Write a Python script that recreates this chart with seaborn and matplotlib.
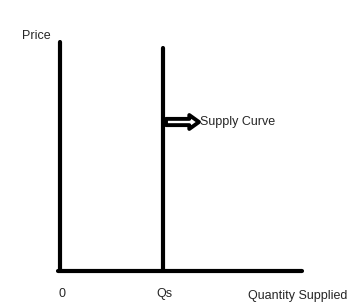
import matplotlib
matplotlib.use("Agg")
import matplotlib.pyplot as plt
import seaborn as sns
import pandas as pd

sns.set_style("white")
plt.rcParams['font.family'] = ['Liberation Sans', 'DejaVu Sans']

# Diagram data (quantity, price units)
axis_x = [0, 242]          # quantity axis extent
axis_y = [0, 229]          # price axis extent
qs = 103                   # quantity supplied (vertical supply curve)
supply_price = [0, 223]
arrow_price = 149
labels_x = ["0", "Qs"]
x_title = "Quantity Supplied"
y_title = "Price"
curve_label = "Supply Curve"

fig = plt.figure(figsize=(3.54, 3.07), dpi=100)
ax = fig.add_axes([0, 0, 1, 1])
ax.set_xlim(-60, 294)
ax.set_ylim(-36, 271)
ax.axis("off")

lw = 3.0
yaxis = pd.DataFrame({"q": [0, 0], "p": axis_y})
xaxis = pd.DataFrame({"q": [-2, axis_x[1]], "p": [0, 0]})
supply = pd.DataFrame({"q": [qs, qs], "p": supply_price})
for df in (yaxis, xaxis, supply):
    sns.lineplot(data=df, x="q", y="p", ax=ax, color="black", lw=lw,
                 sort=False, estimator=None, legend=False)

ax.annotate("", xy=(qs + 36, arrow_price), xytext=(qs + 3, arrow_price),
            arrowprops=dict(arrowstyle="simple,head_length=0.7,head_width=1.0,tail_width=0.45",
                            fc="white", ec="black", lw=2.8, shrinkA=0, shrinkB=0))
ax.text(qs + 37, arrow_price, curve_label, fontsize=9, va="center", ha="left")

ax.text(-38, 235, y_title, fontsize=9, va="center", ha="left")
ax.text(2, -23, labels_x[0], fontsize=9, va="center", ha="center")
ax.text(qs + 1, -23, labels_x[1], fontsize=9, va="center", ha="center")
ax.text(188, -25, x_title, fontsize=9, va="center", ha="left")

fig.savefig("out.png", dpi=100)
